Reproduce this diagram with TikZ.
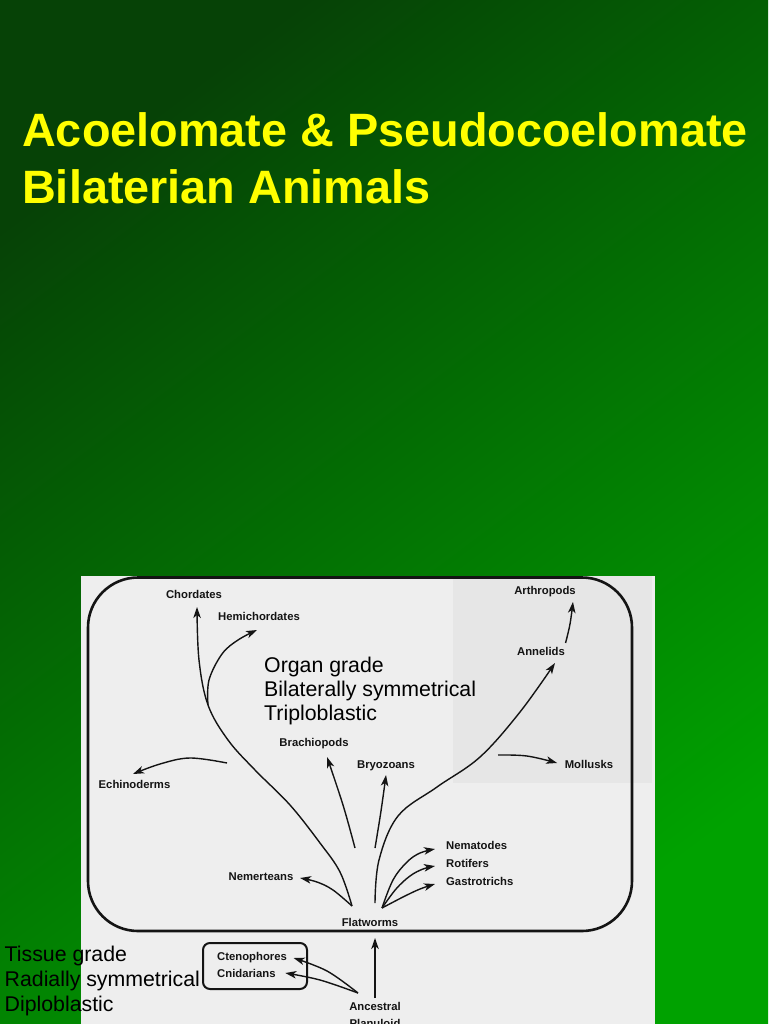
\documentclass[tikz,border=0pt]{standalone}
\usepackage{fontspec}
\setmainfont{Liberation Sans}
\usetikzlibrary{arrows.meta}
\definecolor{gdark}{RGB}{6,66,6}
\definecolor{gbright}{RGB}{0,162,0}
\definecolor{paper}{RGB}{238,238,238}
\definecolor{paperdk}{RGB}{230,230,230}
\definecolor{ink}{RGB}{20,20,20}
\definecolor{titleyellow}{RGB}{255,255,0}
\begin{document}
\begin{tikzpicture}[x=1pt,y=-1pt,
  lab/.style={font=\fontsize{11.3}{12}\selectfont\bfseries, text=ink, inner sep=1.5pt, text height=8.2pt, text depth=2.4pt},
  big/.style={font=\fontsize{21.3}{24}\selectfont, anchor=base west, inner sep=0pt, text=black},
  ttl/.style={font=\fontsize{46.8}{50}\selectfont\bfseries, anchor=base west, inner sep=0pt, text=titleyellow},
  arr/.style={draw=ink, line width=1.4pt, -{Stealth[length=11pt,width=7.5pt,inset=3pt]}}]
\useasboundingbox (0,0) rectangle (768,1024);
\clip (0,0) rectangle (768,1024);
% background
\shade[top color=gdark, bottom color=gbright, shading angle=37] (0,0) rectangle (768,1024);
% scanned figure
\fill[paper] (81,576) rectangle (655,1024);
\fill[paperdk] (453,576) rectangle (652,783);
% title
\node[ttl] (t1) at (22,147) {Acoelomate \& Pseudocoelomate};
\node[ttl] (t2) at (22,204) {Bilaterian Animals};
% frames
\draw[ink, line width=2.6pt, rounded corners=50pt] (88,577.5) rectangle (632,931);
\draw[ink, line width=2pt, rounded corners=7pt] (203,943) rectangle (307,989);
% big texts
\node[big] (og1) at (264,672) {Organ grade};
\node[big] (og2) at (264,696) {Bilaterally symmetrical};
\node[big] (og3) at (264,720) {Triploblastic};
\node[big] (tg1) at (4.5,961) {Tissue grade};
\node[big] (tg2) at (4.5,986) {Radially symmetrical};
\node[big] (tg3) at (4.5,1011) {Diploblastic};
% labels
\node[lab] (chord) at (194,596) {Chordates};
\node[lab] (hemi) at (259,618) {Hemichordates};
\node[lab] (arth) at (545,592) {Arthropods};
\node[lab] (ann) at (541,653) {Annelids};
\node[lab] (brach) at (314,744) {Brachiopods};
\node[lab] (bryo) at (386,766) {Bryozoans};
\node[lab] (moll) at (589,766) {Mollusks};
\node[lab] (echi) at (134.5,786) {Echinoderms};
\node[lab, anchor=west] (nema) at (444.5,847) {Nematodes};
\node[lab, anchor=west] (roti) at (444.5,865) {Rotifers};
\node[lab, anchor=west] (gast) at (444.5,883) {Gastrotrichs};
\node[lab] (nemer) at (261,878) {Nemerteans};
\node[lab] (flat) at (370,924) {Flatworms};
\node[lab, anchor=west] (cteno) at (215.5,958) {Ctenophores};
\node[lab, anchor=west] (cnid) at (215.5,975) {Cnidarians};
\node[lab] (anc) at (375,1008) {Ancestral};
\node[lab] (plan) at (375,1025) {Planuloid};
% branch points
\coordinate (fwL) at (352,906);
\coordinate (fwM) at (375,903);
\coordinate (fwR) at (382,908);
\coordinate (hS) at (208,705);
\coordinate (echS) at (227,763);
\coordinate (bS) at (355,848);
\coordinate (yS) at (375,848);
\coordinate (molS) at (498,755);
\coordinate (arthS) at ([shift={(-1,-3)}]ann.north east);
\coordinate (ancS) at ([shift={(0,-3)}]anc.north);
\coordinate (ancL) at ([shift={(-17,-15)}]anc.center);
% arrow tips
\coordinate (tChord) at ([shift={(3,11)}]chord.center);
\coordinate (tHemi) at ([shift={(-2,12)}]hemi.center);
\coordinate (tArth) at ([shift={(28,10)}]arth.center);
\coordinate (tAnn) at ([shift={(14,10)}]ann.center);
\coordinate (tBrach) at ([shift={(13,13)}]brach.center);
\coordinate (tBryo) at ([shift={(0,9)}]bryo.center);
\coordinate (tMoll) at ([shift={(-6,-3)}]moll.west);
\coordinate (tEchi) at ([shift={(-1.5,-12)}]echi.center);
\coordinate (tNema) at ([shift={(-9.5,2)}]nema.west);
\coordinate (tRoti) at ([shift={(-9.5,1)}]roti.west);
\coordinate (tGast) at ([shift={(-9.5,1)}]gast.west);
\coordinate (tNemer) at ([shift={(5,0)}]nemer.east);
\coordinate (tFlat) at ([shift={(5,14)}]flat.center);
\coordinate (tCteno) at ([shift={(5,0)}]cteno.east);
\coordinate (tCnid) at ([shift={(8,-2)}]cnid.east);
% connectors
\draw[arr] plot[smooth, tension=0.6] coordinates {(fwL) (340,872) (320,843) (290,805) (255,770) (228,740) (hS) (199,660) (tChord)};
\draw[arr] plot[smooth, tension=0.6] coordinates {(hS) (209,680) (222,654) (238,640) (tHemi)};
\draw[arr] plot[smooth, tension=0.6] coordinates {(echS) (190,758) (160,764) (tEchi)};
\draw[arr] plot[smooth, tension=0.6] coordinates {(bS) (343,805) (tBrach)};
\draw[arr] plot[smooth, tension=0.6] coordinates {(yS) (381,811) (tBryo)};
\draw[arr] plot[smooth, tension=0.6] coordinates {(fwM) (379,860) (398,816) (437,787) (480,757) (520,712) (tAnn)};
\draw[arr] plot[smooth, tension=0.6] coordinates {(arthS) (570,624) (tArth)};
\draw[arr] plot[smooth, tension=0.6] coordinates {(molS) (527,756) (tMoll)};
\draw[arr] plot[smooth, tension=0.6] coordinates {(fwL) (333,890) (317,882) (tNemer)};
\draw[arr] plot[smooth, tension=0.6] coordinates {(fwR) (393,880) (407,862) (420,853) (tNema)};
\draw[arr] plot[smooth, tension=0.6] coordinates {(fwR) (396,889) (410,876) (423,869) (tRoti)};
\draw[arr] plot[smooth, tension=0.6] coordinates {(fwR) (403,897) (420,889) (tGast)};
\draw[arr] (ancS) -- (tFlat);
\draw[arr] plot[smooth, tension=0.6] coordinates {(ancL) (327,971) (tCteno)};
\draw[arr] plot[smooth, tension=0.6] coordinates {(ancL) (320,980) (tCnid)};
\end{tikzpicture}
\end{document}
